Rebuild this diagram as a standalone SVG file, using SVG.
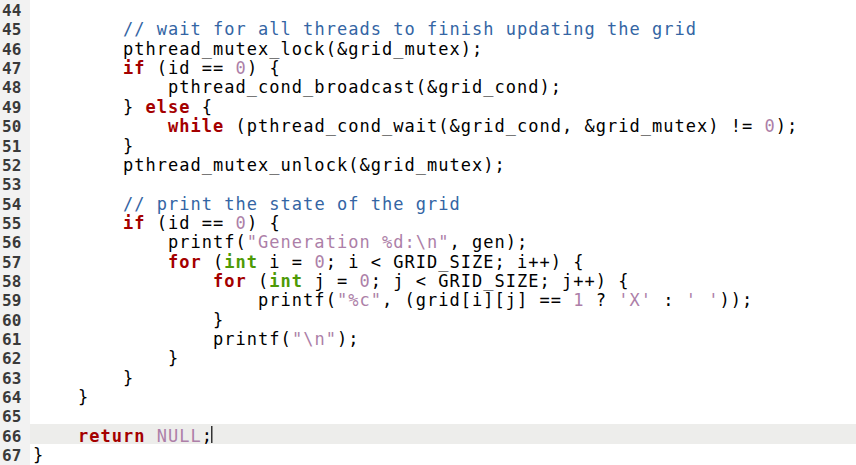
<svg xmlns="http://www.w3.org/2000/svg" width="856" height="465" viewBox="0 0 856 465">
<style>
.c{font-family:"DejaVu Sans Mono",monospace;font-size:17px;letter-spacing:1.02px;fill:#000;white-space:pre}
.n{font-family:"DejaVu Sans Mono",monospace;font-size:16px;font-weight:bold;fill:#3a3a3a}
.cm{fill:#3465a4}.k{fill:#a40000;font-weight:bold}.t{fill:#4e9a06;font-weight:bold}.s{fill:#ad7fa8}
</style>
<rect width="856" height="465" fill="#fff"/>
<rect width="30" height="465" fill="#f2f2f2"/>
<rect x="30" y="424" width="826" height="20" fill="#ededeb"/>
<g id="gutter">
<text class="n" x="2" y="16">44</text><text class="n" x="2" y="35.4">45</text><text class="n" x="2" y="54.7">46</text><text class="n" x="2" y="74">47</text><text class="n" x="2" y="93.4">48</text><text class="n" x="2" y="112.8">49</text><text class="n" x="2" y="132.1">50</text><text class="n" x="2" y="151.5">51</text><text class="n" x="2" y="170.8">52</text><text class="n" x="2" y="190.2">53</text><text class="n" x="2" y="209.5">54</text><text class="n" x="2" y="228.9">55</text><text class="n" x="2" y="248.2">56</text><text class="n" x="2" y="267.6">57</text><text class="n" x="2" y="286.9">58</text><text class="n" x="2" y="306.3">59</text><text class="n" x="2" y="325.6">60</text><text class="n" x="2" y="345">61</text><text class="n" x="2" y="364.3">62</text><text class="n" x="2" y="383.7">63</text><text class="n" x="2" y="403">64</text><text class="n" x="2" y="422.4">65</text><text class="n" x="2" y="441.7" fill="#000">66</text><text class="n" x="2" y="461">67</text>
</g>
<g id="code" xml:space="preserve">
<text class="c" x="33" y="35.4">        <tspan class="cm">// wait for all threads to finish updating the grid</tspan></text>
<text class="c" x="33" y="54.7">        pthread_mutex_lock(&amp;grid_mutex);</text>
<text class="c" x="33" y="74">        <tspan class="k">if</tspan> (id == <tspan class="s">0</tspan>) {</text>
<text class="c" x="33" y="93.4">            pthread_cond_broadcast(&amp;grid_cond);</text>
<text class="c" x="33" y="112.8">        } <tspan class="k">else</tspan> {</text>
<text class="c" x="33" y="132.1">            <tspan class="k">while</tspan> (pthread_cond_wait(&amp;grid_cond, &amp;grid_mutex) != <tspan class="s">0</tspan>);</text>
<text class="c" x="33" y="151.5">        }</text>
<text class="c" x="33" y="170.8">        pthread_mutex_unlock(&amp;grid_mutex);</text>
<text class="c" x="33" y="209.5">        <tspan class="cm">// print the state of the grid</tspan></text>
<text class="c" x="33" y="228.9">        <tspan class="k">if</tspan> (id == <tspan class="s">0</tspan>) {</text>
<text class="c" x="33" y="248.2">            printf(<tspan class="s">"Generation %d:\n"</tspan>, gen);</text>
<text class="c" x="33" y="267.6">            <tspan class="k">for</tspan> (<tspan class="t">int</tspan> i = <tspan class="s">0</tspan>; i &lt; GRID_SIZE; i++) {</text>
<text class="c" x="33" y="286.9">                <tspan class="k">for</tspan> (<tspan class="t">int</tspan> j = <tspan class="s">0</tspan>; j &lt; GRID_SIZE; j++) {</text>
<text class="c" x="33" y="306.3">                    printf(<tspan class="s">"%c"</tspan>, (grid[i][j] == <tspan class="s">1</tspan> ? <tspan class="s">'X'</tspan> : <tspan class="s">' '</tspan>));</text>
<text class="c" x="33" y="325.6">                }</text>
<text class="c" x="33" y="345">                printf(<tspan class="s">"\n"</tspan>);</text>
<text class="c" x="33" y="364.3">            }</text>
<text class="c" x="33" y="383.7">        }</text>
<text class="c" x="33" y="403">    }</text>
<text class="c" x="33" y="441.7">    <tspan class="k">return</tspan> <tspan class="s">NULL</tspan>;</text>
<text class="c" x="33" y="461">}</text>
</g>
<rect x="211" y="426" width="1.5" height="17" fill="#333"/>
</svg>
